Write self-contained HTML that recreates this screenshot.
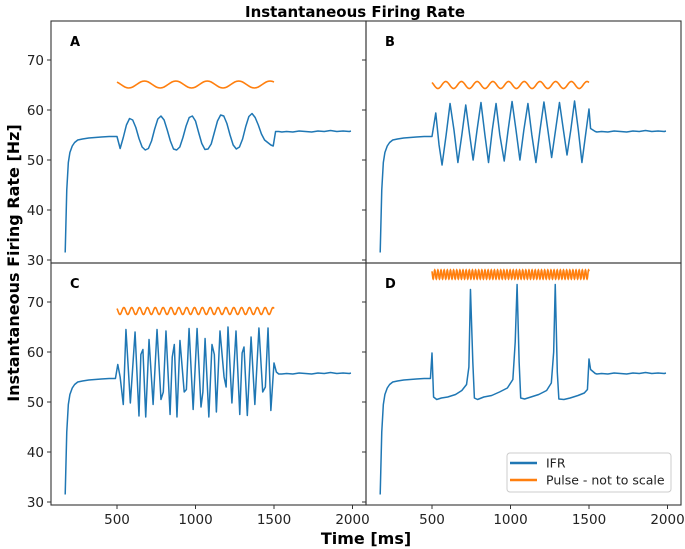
<!DOCTYPE html>
<html><head><meta charset="utf-8"><style>
html,body{margin:0;padding:0;background:#fff;}
svg{display:block;font-family:"DejaVu Sans","Liberation Sans",sans-serif;}
</style></head><body>
<svg id="chart" width="685" height="549" viewBox="0 0 685 549">
<text x="355" y="17" text-anchor="middle" font-size="15" font-weight="bold">Instantaneous Firing Rate</text>
<text transform="translate(19,263) rotate(-90)" text-anchor="middle" font-size="16" font-weight="bold">Instantaneous Firing Rate [Hz]</text>
<text x="366" y="544" text-anchor="middle" font-size="16" font-weight="bold">Time [ms]</text>
<g id="plots"></g>
<g>
<rect x="507" y="453" width="164" height="39" rx="3" fill="#fff" stroke="#ccc" stroke-width="1"/>
<line x1="510" y1="463" x2="537" y2="463" stroke="#1f77b4" stroke-width="2.5"/>
<text x="546" y="467.5" font-size="12.5" fill="#222">IFR</text>
<line x1="510" y1="480" x2="537" y2="480" stroke="#ff7f0e" stroke-width="2.5"/>
<text x="546" y="484.5" font-size="12.5" fill="#222">Pulse - not to scale</text>
</g>
</svg>
<script>
const rampT = [170,180,190,200,215,230,250,280,320,360,400,450,490];
const rampV = [31.5,44,49.5,51.5,52.8,53.5,54,54.2,54.4,54.5,54.6,54.7,54.7];
const postT = [1550,1580,1620,1660,1700,1740,1780,1820,1860,1900,1940,1980,1990];
const postV = [55.6,55.7,55.6,55.8,55.7,55.6,55.8,55.7,55.9,55.7,55.8,55.7,55.8];

const aT = [500,520,540,560,580,600,620,640,660,680,700,720,740,760,780,800,820,840,860,880,900,920,940,960,980,1000,1020,1040,1060,1080,1100,1120,1140,1160,1180,1200,1220,1240,1260,1280,1300,1320,1340,1360,1380,1400,1420,1440,1460,1480,1495,1510,1530];
const aV = [54.7,52.3,54.5,57.0,58.3,58.0,56.5,54.3,52.6,52.0,52.3,53.8,56.2,58.2,58.8,58.0,56.0,53.8,52.2,52.0,52.6,54.5,56.8,58.5,58.8,57.8,55.5,53.3,52.1,52.2,53.2,55.5,57.8,59.0,58.8,57.3,55.0,53.0,52.2,52.6,54.2,56.7,58.7,59.3,58.5,57.0,55.2,54.0,53.5,53.0,52.8,55.7,55.7];

const bT = [500,524,545,564,590,615,640,665,690,715,740,762,787,812,837,860,884,908,932,960,985,1010,1035,1060,1085,1111,1136,1162,1188,1213,1238,1262,1287,1312,1337,1360,1384,1408,1432,1455,1478,1500,1510,1540];
const bV = [54.7,59.4,53,49,55,61.3,56,49.5,55,61,55,50,56,61.5,55,49.5,56,61.3,55,49.8,56,61.7,56,50,56,61.3,55,49.5,56,61.6,56,50.5,56,61.5,56,51,56,61.8,56,49.5,55,60.2,56.3,55.7];

const cT = [505,520,540,557,585,615,640,652,665,683,704,730,755,780,795,812,838,852,865,882,901,928,942,959,985,1010,1035,1047,1061,1085,1105,1120,1133,1156,1182,1195,1207,1232,1258,1282,1297,1309,1330,1354,1378,1404,1428,1445,1462,1480,1500,1515,1530];
const cV = [57.5,55,49.5,64.5,49.8,64,47.2,59.5,60.5,47,62.5,49.5,64.5,50.5,52,64.2,47.5,59,61.5,47,62.3,52,52.5,64.7,48.5,64.7,49,52,62.7,47,61.5,59.5,48,64.2,55,53,65,49.8,64.2,47.5,59.8,61,47.3,63,49.5,64.8,52,53,64.8,48.3,57.8,56,55.6];

const dT = [500,510,530,560,600,650,690,720,735,745,760,770,790,830,880,930,980,1015,1030,1042,1055,1065,1090,1130,1180,1230,1260,1275,1285,1298,1308,1340,1380,1430,1470,1490,1500,1510,1540];
const dV = [59.8,51,50.5,50.8,51,51.5,52.3,53.5,57,72.5,58,50.8,50.5,51,51.3,52,52.8,54.5,62,73.5,58,50.8,50.6,51,51.5,52.3,53.8,60,73.5,56,50.6,50.5,50.8,51.3,51.8,52.5,58.6,56.5,55.7];

const panelLabels = ["A","B","C","D"];
const pulseCycles = [5,10,20,50];
const pulseLevel = [65.1,65.0,68.2,75.5];
const pulseAmp = [0.7,0.7,0.7,0.9];
const yTicks = [30,40,50,60,70];
const xTicks = [500,1000,1500,2000];

const panels = [{x0:51,y0:21},{x0:366,y0:21},{x0:51,y0:263},{x0:366,y0:263}];
const W = 315, H = 242;
const series = [[aT,aV],[bT,bV],[cT,cV],[dT,dV]];
const NS = "http://www.w3.org/2000/svg";
const root = document.getElementById("plots");
function mk(tag, attrs){const e=document.createElementNS(NS,tag);for(const k in attrs)e.setAttribute(k,attrs[k]);return e;}

panels.forEach((p,i)=>{
  const xs = t => p.x0 - 12.5 + t*0.157;
  const ys = v => p.y0 + 39 + (70 - v)*5;
  const g = mk("g",{});
  
  
  root.appendChild(g);
  const frame = mk("rect",{x:p.x0,y:p.y0,width:W,height:H,fill:"none",stroke:"#333","stroke-width":1.1});
  
  
  g.appendChild(frame);
  yTicks.forEach(v=>{
    const tk = mk("line",{x1:p.x0-4,x2:p.x0,y1:ys(v),y2:ys(v),stroke:"#333","stroke-width":1});
    
    
    g.appendChild(tk);
    if(i%2===0){
      const tl = mk("text",{x:p.x0-7,y:ys(v)+5,"text-anchor":"end","font-size":13.5,fill:"#222"});
      tl.textContent = v;
      
      
      g.appendChild(tl);
    }
  });
  if(i>=2){
    xTicks.forEach(t=>{
      const tk = mk("line",{x1:xs(t),x2:xs(t),y1:p.y0+H,y2:p.y0+H+4,stroke:"#333","stroke-width":1});
      
      
      g.appendChild(tk);
      const tl = mk("text",{x:xs(t),y:p.y0+H+19,"text-anchor":"middle","font-size":13.5,fill:"#222"});
      tl.textContent = t;
      
      
      g.appendChild(tl);
    });
  }
  const lab = mk("text",{x:p.x0+19,y:p.y0+25,"font-size":13,"font-weight":"bold"});
  lab.textContent = panelLabels[i];
  
  
  g.appendChild(lab);
  let pd = "";
  const n = pulseCycles[i]*16;
  for(let k=0;k<=n;k++){
    const t = 500 + 1000*k/n;
    const v = pulseLevel[i] + pulseAmp[i]*Math.sin(2*Math.PI*pulseCycles[i]*(t-500)/1000 + Math.PI*0.75);
    pd += (k?"L":"M") + xs(t).toFixed(2) + "," + ys(v).toFixed(2);
  }
  const pulse = mk("path",{d:pd,fill:"none",stroke:"#ff7f0e","stroke-width":1.6});
  
  
  g.appendChild(pulse);
  const T = rampT.concat(series[i][0], postT);
  const V = rampV.concat(series[i][1], postV);
  let d = "";
  T.forEach((t,k)=>{ d += (k?"L":"M") + xs(t).toFixed(2) + "," + ys(V[k]).toFixed(2); });
  const ifr = mk("path",{d:d,fill:"none",stroke:"#1f77b4","stroke-width":1.5,"stroke-linejoin":"round"});
  
  
  g.appendChild(ifr);
});
</script>
</body></html>
